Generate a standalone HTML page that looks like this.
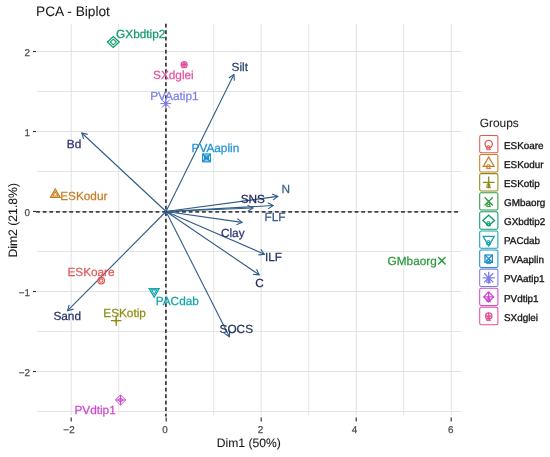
<!DOCTYPE html>
<html><head><meta charset="utf-8"><style>
html,body{margin:0;padding:0;background:#fff;}
svg{display:block;font-family:"Liberation Sans", sans-serif;text-rendering:geometricPrecision;}
</style></head><body>
<svg width="550" height="457" viewBox="0 0 550 457">
<defs><filter id="soft" filterUnits="userSpaceOnUse" x="0" y="0" width="550" height="457"><feGaussianBlur stdDeviation="0.35"/></filter></defs>
<rect width="550" height="457" fill="#fff"/>
<g filter="url(#soft)">
<line x1="118.69999999999999" y1="23.6" x2="118.69999999999999" y2="415.4" stroke="#e5e5e5" stroke-width="1"/>
<line x1="213.7" y1="23.6" x2="213.7" y2="415.4" stroke="#e5e5e5" stroke-width="1"/>
<line x1="308.7" y1="23.6" x2="308.7" y2="415.4" stroke="#e5e5e5" stroke-width="1"/>
<line x1="403.7" y1="23.6" x2="403.7" y2="415.4" stroke="#e5e5e5" stroke-width="1"/>
<line x1="37" y1="91.5" x2="461" y2="91.5" stroke="#e5e5e5" stroke-width="1"/>
<line x1="37" y1="171.5" x2="461" y2="171.5" stroke="#e5e5e5" stroke-width="1"/>
<line x1="37" y1="251.5" x2="461" y2="251.5" stroke="#e5e5e5" stroke-width="1"/>
<line x1="37" y1="331.5" x2="461" y2="331.5" stroke="#e5e5e5" stroke-width="1"/>
<line x1="37" y1="411.5" x2="461" y2="411.5" stroke="#e5e5e5" stroke-width="1"/>
<line x1="71.19999999999999" y1="23.6" x2="71.19999999999999" y2="415.4" stroke="#e1e1e1" stroke-width="1"/>
<line x1="166.2" y1="23.6" x2="166.2" y2="415.4" stroke="#e1e1e1" stroke-width="1"/>
<line x1="261.2" y1="23.6" x2="261.2" y2="415.4" stroke="#e1e1e1" stroke-width="1"/>
<line x1="356.2" y1="23.6" x2="356.2" y2="415.4" stroke="#e1e1e1" stroke-width="1"/>
<line x1="451.2" y1="23.6" x2="451.2" y2="415.4" stroke="#e1e1e1" stroke-width="1"/>
<line x1="37" y1="51.5" x2="461" y2="51.5" stroke="#e1e1e1" stroke-width="1"/>
<line x1="37" y1="131.5" x2="461" y2="131.5" stroke="#e1e1e1" stroke-width="1"/>
<line x1="37" y1="211.5" x2="461" y2="211.5" stroke="#e1e1e1" stroke-width="1"/>
<line x1="37" y1="291.5" x2="461" y2="291.5" stroke="#e1e1e1" stroke-width="1"/>
<line x1="37" y1="371.5" x2="461" y2="371.5" stroke="#e1e1e1" stroke-width="1"/>
<line x1="36.1" y1="211.9" x2="460.0" y2="211.9" stroke="#404040" stroke-width="1.8" stroke-dasharray="3.8 2.836"/>
<line x1="165.9" y1="23.8" x2="165.9" y2="416.6" stroke="#404040" stroke-width="1.8" stroke-dasharray="3.7 2.8"/>
<line x1="33" y1="51.5" x2="36" y2="51.5" stroke="#333333" stroke-width="1.2"/>
<line x1="33" y1="131.5" x2="36" y2="131.5" stroke="#333333" stroke-width="1.2"/>
<line x1="33" y1="211.5" x2="36" y2="211.5" stroke="#333333" stroke-width="1.2"/>
<line x1="33" y1="291.5" x2="36" y2="291.5" stroke="#333333" stroke-width="1.2"/>
<line x1="33" y1="371.5" x2="36" y2="371.5" stroke="#333333" stroke-width="1.2"/>
<line x1="71.19999999999999" y1="417.4" x2="71.19999999999999" y2="421.4" stroke="#333333" stroke-width="1.2"/>
<line x1="166.2" y1="417.4" x2="166.2" y2="421.4" stroke="#333333" stroke-width="1.2"/>
<line x1="261.2" y1="417.4" x2="261.2" y2="421.4" stroke="#333333" stroke-width="1.2"/>
<line x1="356.2" y1="417.4" x2="356.2" y2="421.4" stroke="#333333" stroke-width="1.2"/>
<line x1="451.2" y1="417.4" x2="451.2" y2="421.4" stroke="#333333" stroke-width="1.2"/>
<text x="30.0" y="55.75" font-size="9.9" fill="#4d4d4d" stroke="#4d4d4d" stroke-width="0.25" text-anchor="end">2</text>
<text x="30.0" y="135.75" font-size="9.9" fill="#4d4d4d" stroke="#4d4d4d" stroke-width="0.25" text-anchor="end">1</text>
<text x="30.0" y="215.75" font-size="9.9" fill="#4d4d4d" stroke="#4d4d4d" stroke-width="0.25" text-anchor="end">0</text>
<text x="30.0" y="295.75" font-size="9.9" fill="#4d4d4d" stroke="#4d4d4d" stroke-width="0.25" text-anchor="end">−1</text>
<text x="30.0" y="375.75" font-size="9.9" fill="#4d4d4d" stroke="#4d4d4d" stroke-width="0.25" text-anchor="end">−2</text>
<text x="69.0" y="432.6" font-size="9.9" fill="#4d4d4d" stroke="#4d4d4d" stroke-width="0.25" text-anchor="middle">−2</text>
<text x="165.0" y="432.6" font-size="9.9" fill="#4d4d4d" stroke="#4d4d4d" stroke-width="0.25" text-anchor="middle">0</text>
<text x="260.4" y="432.6" font-size="9.9" fill="#4d4d4d" stroke="#4d4d4d" stroke-width="0.25" text-anchor="middle">2</text>
<text x="354.5" y="432.6" font-size="9.9" fill="#4d4d4d" stroke="#4d4d4d" stroke-width="0.25" text-anchor="middle">4</text>
<text x="450.7" y="432.6" font-size="9.9" fill="#4d4d4d" stroke="#4d4d4d" stroke-width="0.25" text-anchor="middle">6</text>
<text x="248.8" y="446.7" font-size="12.15" fill="#1a1a1a" stroke="#1a1a1a" stroke-width="0.1" text-anchor="middle">Dim1 (50%)</text>
<g transform="translate(17.3,220.3) rotate(-90)">
<text x="0" y="0" font-size="12.2" fill="#1a1a1a" stroke="#1a1a1a" stroke-width="0.1" text-anchor="middle">Dim2 (21.8%)</text>
</g>
<text x="36.1" y="15.5" font-size="13.7" fill="#1a1a1a" stroke="#1a1a1a" stroke-width="0.05" text-anchor="start">PCA - Biplot</text>
<line x1="166.0" y1="211.5" x2="233.90" y2="74.60" stroke="#2f5b86" stroke-width="1.1"/>
<polyline points="228.82,77.98 233.90,74.60 234.29,80.69" fill="none" stroke="#2f5b86" stroke-width="1.1"/>
<line x1="166.0" y1="211.5" x2="277.80" y2="196.40" stroke="#2f5b86" stroke-width="1.1"/>
<polyline points="272.16,194.08 277.80,196.40 272.97,200.13" fill="none" stroke="#2f5b86" stroke-width="1.1"/>
<line x1="166.0" y1="211.5" x2="253.00" y2="208.00" stroke="#2f5b86" stroke-width="1.1"/>
<polyline points="247.60,205.16 253.00,208.00 247.84,211.26" fill="none" stroke="#2f5b86" stroke-width="1.1"/>
<line x1="166.0" y1="211.5" x2="273.20" y2="205.50" stroke="#2f5b86" stroke-width="1.1"/>
<polyline points="267.76,202.75 273.20,205.50 268.10,208.84" fill="none" stroke="#2f5b86" stroke-width="1.1"/>
<line x1="166.0" y1="211.5" x2="242.10" y2="222.40" stroke="#2f5b86" stroke-width="1.1"/>
<polyline points="237.30,218.63 242.10,222.40 236.44,224.67" fill="none" stroke="#2f5b86" stroke-width="1.1"/>
<line x1="166.0" y1="211.5" x2="264.40" y2="254.20" stroke="#2f5b86" stroke-width="1.1"/>
<polyline points="260.77,249.30 264.40,254.20 258.34,254.89" fill="none" stroke="#2f5b86" stroke-width="1.1"/>
<line x1="166.0" y1="211.5" x2="259.20" y2="274.80" stroke="#2f5b86" stroke-width="1.1"/>
<polyline points="256.54,269.31 259.20,274.80 253.12,274.35" fill="none" stroke="#2f5b86" stroke-width="1.1"/>
<line x1="166.0" y1="211.5" x2="229.40" y2="336.70" stroke="#2f5b86" stroke-width="1.1"/>
<polyline points="229.73,330.61 229.40,336.70 224.29,333.36" fill="none" stroke="#2f5b86" stroke-width="1.1"/>
<line x1="166.0" y1="211.5" x2="67.60" y2="310.70" stroke="#2f5b86" stroke-width="1.1"/>
<polyline points="73.49,309.10 67.60,310.70 69.15,304.80" fill="none" stroke="#2f5b86" stroke-width="1.1"/>
<line x1="166.0" y1="211.5" x2="81.80" y2="133.00" stroke="#2f5b86" stroke-width="1.1"/>
<polyline points="83.58,138.83 81.80,133.00 87.74,134.37" fill="none" stroke="#2f5b86" stroke-width="1.1"/>
<polygon points="113.30,36.57 119.24,42.00 113.30,47.43 107.36,42.00" fill="none" stroke="#109a6c" stroke-width="1.25"/>
<polygon points="113.30,39.18 116.39,42.00 113.30,44.82 110.21,42.00" fill="none" stroke="#109a6c" stroke-width="1.05"/>
<circle cx="184.1" cy="64.7" r="3.0" fill="none" stroke="#e4509a" stroke-width="1.25"/><path d="M181.10,64.7H187.10M184.1,61.70V67.70" stroke="#e4509a" stroke-width="1.25" fill="none"/>
<circle cx="184.1" cy="64.7" r="1.56" fill="none" stroke="#e4509a" stroke-width="1.05"/><path d="M182.54,64.7H185.66M184.1,63.14V66.26" stroke="#e4509a" stroke-width="1.05" fill="none"/>
<path d="M160.30,103.6H171.30M165.8,98.10V109.10M161.68,99.47L169.93,107.72M161.68,107.72L169.93,99.47" stroke="#7c7ce8" stroke-width="1.0" fill="none"/>
<path d="M162.94,103.6H168.66M165.8,100.74V106.46M163.66,101.45L167.95,105.74M163.66,105.74L167.95,101.45" stroke="#7c7ce8" stroke-width="0.8" fill="none"/>
<rect x="202.60" y="154.00" width="7.80" height="7.80" fill="none" stroke="#1e90d0" stroke-width="1.25"/><path d="M202.60,154.00L210.40,161.80M202.60,161.80L210.40,154.00" stroke="#1e90d0" stroke-width="1.25" fill="none"/>
<rect x="204.47" y="155.87" width="4.06" height="4.06" fill="none" stroke="#1e90d0" stroke-width="1.05"/><path d="M204.47,155.87L208.53,159.93M204.47,159.93L208.53,155.87" stroke="#1e90d0" stroke-width="1.05" fill="none"/>
<polygon points="55.30,189.00 60.15,197.40 50.45,197.40" fill="none" stroke="#c97c22" stroke-width="1.25"/>
<polygon points="55.30,191.69 57.82,196.06 52.78,196.06" fill="none" stroke="#c97c22" stroke-width="1.05"/>
<circle cx="101.2" cy="280.6" r="3.3" fill="none" stroke="#e05858" stroke-width="1.25"/>
<circle cx="101.2" cy="280.6" r="1.716" fill="none" stroke="#e05858" stroke-width="1.05"/>
<polygon points="154.20,297.20 159.22,288.50 149.18,288.50" fill="none" stroke="#12a4ac" stroke-width="1.25"/>
<polygon points="154.20,294.42 156.81,289.89 151.59,289.89" fill="none" stroke="#12a4ac" stroke-width="1.05"/>
<path d="M110.90,320.7H121.50M116.2,315.40V326.00" stroke="#8c8c18" stroke-width="1.25" fill="none"/>
<path d="M113.44,320.7H118.96M116.2,317.94V323.46" stroke="#8c8c18" stroke-width="1.05" fill="none"/>
<path d="M438.10,256.95L445.60,264.45M438.10,264.45L445.60,256.95" stroke="#2c9a3c" stroke-width="1.25" fill="none"/>
<path d="M439.90,258.75L443.80,262.65M439.90,262.65L443.80,258.75" stroke="#2c9a3c" stroke-width="1.05" fill="none"/>
<polygon points="120.50,394.90 125.60,400.00 120.50,405.10 115.40,400.00" fill="none" stroke="#cc48d0" stroke-width="1.0"/><path d="M115.40,400.0H125.60M120.5,394.90V405.10" stroke="#cc48d0" stroke-width="1.0" fill="none"/>
<polygon points="120.50,397.35 123.15,400.00 120.50,402.65 117.85,400.00" fill="none" stroke="#cc48d0" stroke-width="0.8"/><path d="M117.85,400.0H123.15M120.5,397.35V402.65" stroke="#cc48d0" stroke-width="0.8" fill="none"/>
<text x="140.7" y="37.9" font-size="11.8" fill="#109a6c" stroke="#109a6c" stroke-width="0.25" text-anchor="middle">GXbdtip2</text>
<text x="173.4" y="78.9" font-size="11.8" fill="#e4509a" stroke="#e4509a" stroke-width="0.25" text-anchor="middle">SXdglei</text>
<text x="174.4" y="99.9" font-size="11.8" fill="#7c7ce8" stroke="#7c7ce8" stroke-width="0.25" text-anchor="middle">PVAatip1</text>
<text x="215.4" y="152.4" font-size="11.8" fill="#1e90d0" stroke="#1e90d0" stroke-width="0.25" text-anchor="middle">PVAaplin</text>
<text x="83.8" y="199.9" font-size="11.8" fill="#c97c22" stroke="#c97c22" stroke-width="0.25" text-anchor="middle">ESKodur</text>
<text x="91.0" y="276.1" font-size="11.8" fill="#e05858" stroke="#e05858" stroke-width="0.25" text-anchor="middle">ESKoare</text>
<text x="177.3" y="305.3" font-size="11.8" fill="#12a4ac" stroke="#12a4ac" stroke-width="0.25" text-anchor="middle">PACdab</text>
<text x="124.6" y="316.7" font-size="11.8" fill="#8c8c18" stroke="#8c8c18" stroke-width="0.25" text-anchor="middle">ESKotip</text>
<text x="412.2" y="264.9" font-size="11.8" fill="#2c9a3c" stroke="#2c9a3c" stroke-width="0.25" text-anchor="middle">GMbaorg</text>
<text x="95.1" y="413.6" font-size="11.8" fill="#cc48d0" stroke="#cc48d0" stroke-width="0.25" text-anchor="middle">PVdtip1</text>
<text x="239.8" y="70.5" font-size="11.8" fill="#26426f" stroke="#26426f" stroke-width="0.25" text-anchor="middle">Silt</text>
<text x="285.8" y="192.7" font-size="11.8" fill="#3a6090" stroke="#3a6090" stroke-width="0.25" text-anchor="middle">N</text>
<text x="252.8" y="203.1" font-size="11.8" fill="#22295e" stroke="#22295e" stroke-width="0.25" text-anchor="middle">SNS</text>
<text x="275.1" y="220.8" font-size="11.8" fill="#36598a" stroke="#36598a" stroke-width="0.25" text-anchor="middle">FLF</text>
<text x="232.8" y="237.1" font-size="11.8" fill="#2a3270" stroke="#2a3270" stroke-width="0.25" text-anchor="middle">Clay</text>
<text x="273.5" y="260.5" font-size="11.8" fill="#22305f" stroke="#22305f" stroke-width="0.25" text-anchor="middle">ILF</text>
<text x="259.4" y="286.8" font-size="11.8" fill="#22305f" stroke="#22305f" stroke-width="0.25" text-anchor="middle">C</text>
<text x="236.3" y="332.5" font-size="11.8" fill="#21325c" stroke="#21325c" stroke-width="0.25" text-anchor="middle">SOCS</text>
<text x="67.2" y="320.0" font-size="11.8" fill="#272f68" stroke="#272f68" stroke-width="0.25" text-anchor="middle">Sand</text>
<text x="74.0" y="147.6" font-size="11.8" fill="#2a2e6e" stroke="#2a2e6e" stroke-width="0.25" text-anchor="middle">Bd</text>
<text x="479.7" y="127.0" font-size="11.95" fill="#1a1a1a" stroke="#1a1a1a" stroke-width="0.05" text-anchor="start">Groups</text>
<rect x="479.7" y="135.40" width="18.2" height="17.4" rx="1.5" fill="#fff" stroke="#e05858" stroke-width="1.05"/>
<circle cx="488.7" cy="144.1" r="3.63" fill="none" stroke="#e05858" stroke-width="1.3"/>
<text x="488.50" y="149.50" font-size="8.6" fill="#e05858" stroke="#e05858" stroke-width="0.3" text-anchor="middle">a</text>
<text x="504.0" y="148.7" font-size="9.9" fill="#1a1a1a" stroke="#1a1a1a" stroke-width="0.35" text-anchor="start">ESKoare</text>
<rect x="479.7" y="154.50" width="18.2" height="17.4" rx="1.5" fill="#fff" stroke="#c97c22" stroke-width="1.05"/>
<polygon points="488.70,157.04 494.03,166.28 483.37,166.28" fill="none" stroke="#c97c22" stroke-width="1.3"/>
<text x="488.50" y="168.60" font-size="8.6" fill="#c97c22" stroke="#c97c22" stroke-width="0.3" text-anchor="middle">a</text>
<text x="504.0" y="167.8" font-size="9.9" fill="#1a1a1a" stroke="#1a1a1a" stroke-width="0.35" text-anchor="start">ESKodur</text>
<rect x="479.7" y="173.60" width="18.2" height="17.4" rx="1.5" fill="#fff" stroke="#8c8c18" stroke-width="1.05"/>
<path d="M482.87,182.3H494.53M488.7,176.47V188.13" stroke="#8c8c18" stroke-width="1.3" fill="none"/>
<text x="488.50" y="187.70" font-size="8.6" fill="#8c8c18" stroke="#8c8c18" stroke-width="0.3" text-anchor="middle">a</text>
<text x="504.0" y="186.9" font-size="9.9" fill="#1a1a1a" stroke="#1a1a1a" stroke-width="0.35" text-anchor="start">ESKotip</text>
<rect x="479.7" y="192.70" width="18.2" height="17.4" rx="1.5" fill="#fff" stroke="#2c9a3c" stroke-width="1.05"/>
<path d="M484.57,197.28L492.82,205.53M484.57,205.53L492.82,197.28" stroke="#2c9a3c" stroke-width="1.3" fill="none"/>
<text x="488.50" y="206.80" font-size="8.6" fill="#2c9a3c" stroke="#2c9a3c" stroke-width="0.3" text-anchor="middle">a</text>
<text x="504.0" y="206.0" font-size="9.9" fill="#1a1a1a" stroke="#1a1a1a" stroke-width="0.35" text-anchor="start">GMbaorg</text>
<rect x="479.7" y="211.80" width="18.2" height="17.4" rx="1.5" fill="#fff" stroke="#109a6c" stroke-width="1.05"/>
<polygon points="488.70,215.18 494.52,220.50 488.70,225.82 482.88,220.50" fill="none" stroke="#109a6c" stroke-width="1.3"/>
<text x="488.50" y="225.90" font-size="8.6" fill="#109a6c" stroke="#109a6c" stroke-width="0.3" text-anchor="middle">a</text>
<text x="504.0" y="225.1" font-size="9.9" fill="#1a1a1a" stroke="#1a1a1a" stroke-width="0.35" text-anchor="start">GXbdtip2</text>
<rect x="479.7" y="230.90" width="18.2" height="17.4" rx="1.5" fill="#fff" stroke="#12a4ac" stroke-width="1.05"/>
<polygon points="488.70,245.98 494.23,236.41 483.17,236.41" fill="none" stroke="#12a4ac" stroke-width="1.3"/>
<text x="488.50" y="245.00" font-size="8.6" fill="#12a4ac" stroke="#12a4ac" stroke-width="0.3" text-anchor="middle">a</text>
<text x="504.0" y="244.2" font-size="9.9" fill="#1a1a1a" stroke="#1a1a1a" stroke-width="0.35" text-anchor="start">PACdab</text>
<rect x="479.7" y="250.00" width="18.2" height="17.4" rx="1.5" fill="#fff" stroke="#1e90d0" stroke-width="1.05"/>
<rect x="485.00" y="254.99" width="7.41" height="7.41" fill="none" stroke="#1e90d0" stroke-width="1.3"/><path d="M485.00,254.99L492.40,262.40M485.00,262.40L492.40,254.99" stroke="#1e90d0" stroke-width="1.3" fill="none"/>
<text x="488.50" y="264.10" font-size="8.6" fill="#1e90d0" stroke="#1e90d0" stroke-width="0.3" text-anchor="middle">a</text>
<text x="504.0" y="263.3" font-size="9.9" fill="#1a1a1a" stroke="#1a1a1a" stroke-width="0.35" text-anchor="start">PVAaplin</text>
<rect x="479.7" y="269.10" width="18.2" height="17.4" rx="1.5" fill="#fff" stroke="#7c7ce8" stroke-width="1.05"/>
<path d="M482.65,277.8H494.75M488.7,271.75V283.85M484.16,273.26L493.24,282.34M484.16,282.34L493.24,273.26" stroke="#7c7ce8" stroke-width="1.3" fill="none"/>
<text x="488.50" y="283.20" font-size="8.6" fill="#7c7ce8" stroke="#7c7ce8" stroke-width="0.3" text-anchor="middle">a</text>
<text x="504.0" y="282.4" font-size="9.9" fill="#1a1a1a" stroke="#1a1a1a" stroke-width="0.35" text-anchor="start">PVAatip1</text>
<rect x="479.7" y="288.20" width="18.2" height="17.4" rx="1.5" fill="#fff" stroke="#cc48d0" stroke-width="1.05"/>
<polygon points="488.70,291.95 493.65,296.90 488.70,301.85 483.75,296.90" fill="none" stroke="#cc48d0" stroke-width="1.3"/><path d="M483.75,296.90000000000003H493.65M488.7,291.95V301.85" stroke="#cc48d0" stroke-width="1.3" fill="none"/>
<text x="488.50" y="302.30" font-size="8.6" fill="#cc48d0" stroke="#cc48d0" stroke-width="0.3" text-anchor="middle">a</text>
<text x="504.0" y="301.5" font-size="9.9" fill="#1a1a1a" stroke="#1a1a1a" stroke-width="0.35" text-anchor="start">PVdtip1</text>
<rect x="479.7" y="307.30" width="18.2" height="17.4" rx="1.5" fill="#fff" stroke="#e4509a" stroke-width="1.05"/>
<circle cx="488.7" cy="316.0" r="3.1500000000000004" fill="none" stroke="#e4509a" stroke-width="1.3"/><path d="M485.55,316.0H491.85M488.7,312.85V319.15" stroke="#e4509a" stroke-width="1.3" fill="none"/>
<text x="488.50" y="321.40" font-size="8.6" fill="#e4509a" stroke="#e4509a" stroke-width="0.3" text-anchor="middle">a</text>
<text x="504.0" y="320.6" font-size="9.9" fill="#1a1a1a" stroke="#1a1a1a" stroke-width="0.35" text-anchor="start">SXdglei</text>
</g>
</svg>
</body></html>
